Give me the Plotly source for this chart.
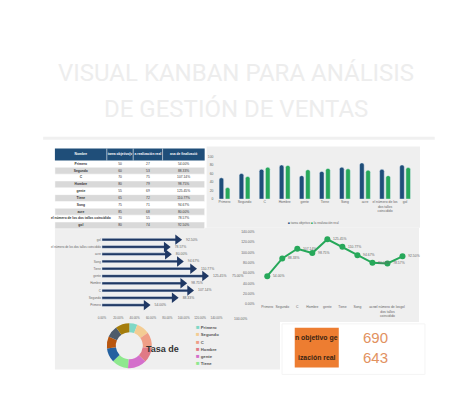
import plotly.graph_objects as go

W, H = 474, 417

# ---------------- data ----------------
names = ["Primero", "Segundo", "C", "Hombre", "gente", "Tiene", "Song", "acre",
         "el número de los dos tallos coincidido", "gol"]
axis_labels = ["Primero", "Segundo", "C", "Hombre", "gente", "Tiene", "Song", "acre",
               "el número de los<br>dos tallos<br>coincidido", "gol"]
objetivo = [50, 60, 70, 80, 55, 65, 75, 85, 70, 80]
real = [27, 53, 75, 79, 69, 72, 71, 68, 55, 74]
tasa = [r / o for r, o in zip(real, objetivo)]
header_labels = ["Nombre", "tarea objetivo(v", "a realización real", "asa de finalizació"]
series_labels = ["tarea objetivo", "la realización real"]
pct_ticks = [0, 0.2, 0.4, 0.6, 0.8, 1.0, 1.2, 1.4]
bar_ticks = [0, 20, 40, 60, 80, 100]
donut_colors = ["#7fd8c6", "#f3cc93", "#ef9e86", "#e07a86", "#d46fcb",
                "#8ee88e", "#2461a0", "#b8560f", "#4d5b6b", "#a57d0c"]
kpi_labels = ["n objetivo ge", "ización real"]
kpi_values = [sum(objetivo), sum(real)]

BLUE = "#1f4e79"
GREEN = "#27a85a"
NAVY = "#1f3864"
GRAY_TXT = "#666666"
FONT = "Liberation Sans"


def fx(x):
    return x / W


def fy(y):
    return 1 - y / H


def note(text, x, y, font, xanchor="center"):
    return dict(text=text, x=fx(x), y=fy(y), xref="paper", yref="paper",
                xanchor=xanchor, yanchor="middle", showarrow=False, font=font)


fig = go.Figure()
shapes = []
annotations = []

# ---------------- table (drawn on its own hidden axes) ----------------
TX0, TX1, TY0, TY1 = 52, 205, 148, 229
col_w = [53, 27, 30, 43]
HEAD_H = 12
ROW_H = (TY1 - TY0 - HEAD_H) / len(names)
bounds = [sum(col_w[:i]) for i in range(len(col_w) + 1)]
centers = [(bounds[i] + bounds[i + 1]) / 2 for i in range(len(col_w))]
row_y = [HEAD_H + ROW_H * (i + 0.5) for i in range(len(names))]

shapes.append(dict(type="rect", xref="paper", yref="paper", x0=fx(TX0), x1=fx(TX1),
                   y0=fy(TY1), y1=fy(TY0), fillcolor="white", line_width=0, layer="below"))
shapes.append(dict(type="rect", xref="paper", yref="paper", x0=fx(TX0), x1=fx(TX1),
                   y0=fy(TY0 + HEAD_H), y1=fy(TY0), fillcolor=BLUE, line_width=0, layer="below"))
for i in range(len(names)):
    if i % 2 == 1:
        ya = TY0 + HEAD_H + ROW_H * i
        shapes.append(dict(type="rect", xref="paper", yref="paper", x0=fx(TX0), x1=fx(TX1),
                           y0=fy(ya + ROW_H), y1=fy(ya), fillcolor="#d9d9d9",
                           line=dict(color="white", width=0.5), layer="below"))
for b in bounds[1:-1]:
    shapes.append(dict(type="line", xref="paper", yref="paper", x0=fx(TX0 + b), x1=fx(TX0 + b),
                       y0=fy(TY0 + HEAD_H), y1=fy(TY0), line=dict(color="white", width=0.6)))

fig.add_trace(go.Scatter(x=centers, y=[HEAD_H / 2] * 4, mode="text",
                         text=["<b>%s</b>" % h for h in header_labels],
                         textfont=dict(size=3.3, color="white", family=FONT),
                         xaxis="x4", yaxis="y4", showlegend=False, cliponaxis=False))
col_texts = [["<b>%s</b>" % n for n in names], [str(v) for v in objetivo],
             [str(v) for v in real], ["%.2f%%" % (t * 100) for t in tasa]]
for c, texts in enumerate(col_texts):
    fig.add_trace(go.Scatter(x=[centers[c]] * len(texts), y=row_y, mode="text", text=texts,
                             textfont=dict(size=3.3, color="#333333", family=FONT),
                             xaxis="x4", yaxis="y4", showlegend=False, cliponaxis=False))

# ---------------- grouped bar chart ----------------
fig.add_trace(go.Bar(x=names, y=objetivo, name=series_labels[0], marker_color=BLUE,
                     width=0.23, offset=-0.27, marker_cornerradius=2,
                     xaxis="x", yaxis="y", showlegend=False))
fig.add_trace(go.Bar(x=names, y=real, name=series_labels[1], marker_color=GREEN,
                     width=0.23, offset=0.04, marker_cornerradius=2,
                     xaxis="x", yaxis="y", showlegend=False))

# ---------------- arrow chart ----------------
fig.add_trace(go.Bar(x=tasa, y=names, orientation="h", marker_color=NAVY, width=0.38,
                     xaxis="x2", yaxis="y2", showlegend=False))
fig.add_trace(go.Scatter(x=tasa, y=names, mode="markers+text",
                         marker=dict(symbol="triangle-right", size=9, color=NAVY),
                         text=["  %.2f%%" % (t * 100) for t in tasa],
                         textposition="middle right",
                         textfont=dict(size=3.4, color=GRAY_TXT, family=FONT),
                         xaxis="x2", yaxis="y2", showlegend=False, cliponaxis=False))

# ---------------- line chart ----------------
fig.add_trace(go.Scatter(x=names, y=tasa, mode="lines+markers+text",
                         line=dict(color=GREEN, width=2),
                         marker=dict(size=6, color=GREEN),
                         text=[" %.2f%%" % (t * 100) for t in tasa],
                         textposition="middle right",
                         textfont=dict(size=3.4, color=GRAY_TXT, family=FONT),
                         xaxis="x3", yaxis="y3", showlegend=False, cliponaxis=False))

# ---------------- donut ----------------
fig.add_trace(go.Pie(labels=names, values=tasa, hole=0.6, sort=False,
                     direction="clockwise", rotation=0,
                     marker=dict(colors=donut_colors, line=dict(width=0)),
                     textinfo="none", showlegend=False,
                     domain=dict(x=[fx(105), fx(151)], y=[fy(370), fy(324)])))

tick_font = dict(size=3.4, color=GRAY_TXT, family=FONT)

shapes = [
    dict(type="rect", xref="paper", yref="paper", x0=fx(40), x1=fx(440), y0=fy(139), y1=fy(136),
         fillcolor="#f0f0f0", line_width=0, layer="below"),
    dict(type="rect", xref="paper", yref="paper", x0=fx(207), x1=fx(425), y0=fy(228), y1=fy(146),
         fillcolor="#efefef", line_width=0, layer="below"),
    dict(type="rect", xref="paper", yref="paper", x0=fx(52), x1=fx(424), y0=fy(323), y1=fy(228),
         fillcolor="#efefef", line_width=0, layer="below"),
    dict(type="rect", xref="paper", yref="paper", x0=fx(52), x1=fx(282), y0=fy(371), y1=fy(323),
         fillcolor="#efefef", line_width=0, layer="below"),
    dict(type="rect", xref="paper", yref="paper", x0=fx(284), x1=fx(430), y0=fy(376), y1=fy(325),
         fillcolor="white", line=dict(color="#f4f4f4", width=1), layer="below"),
    dict(type="rect", xref="paper", yref="paper", x0=fx(297), x1=fx(342), y0=fy(369), y1=fy(329),
         fillcolor="#ed7d31", line_width=0, layer="below"),
] + shapes

title_font = dict(size=24, color="#ededed", family="Roboto")
annotations += [
    note("VISUAL KANBAN PARA ANÁLISIS", 237, 72, title_font),
    note("DE GESTIÓN DE VENTAS", 237, 108, title_font),
    note("<b>Tasa de</b>", 143, 350, dict(size=9, color="#333333", family=FONT), "left"),
    note("75.00%", 231, 277, tick_font, "left"),
    note("100.00%", 233, 320, tick_font, "left"),
]

# bar chart legend
for i, (lab, col) in enumerate(zip(series_labels, [BLUE, GREEN])):
    annotations.append(note("<span style='color:%s'>■</span> %s" % (col, lab), 288 + i * 24, 223,
                            dict(size=3.2, color=GRAY_TXT, family=FONT), "left"))

# donut legend (first entries visible)
for i, (lab, col) in enumerate(zip(names[:6], donut_colors[:6])):
    annotations.append(note("<span style='color:%s;font-size:6px'>■</span> <b>%s</b>" % (col, lab),
                            194, 328 + i * 7.4, dict(size=4.2, color="#555555", family=FONT), "left"))

# KPI
for i, (lab, val) in enumerate(zip(kpi_labels, kpi_values)):
    yy = 339 + i * 20
    annotations.append(note("<b>%s</b>" % lab, 319.5, yy,
                            dict(size=6.9, color="#3b2412", family=FONT)))
    annotations.append(note("%d" % val, 380, yy, dict(size=15, color="#e2925f", family=FONT)))

fig.update_layout(
    width=W, height=H, margin=dict(l=0, r=0, t=0, b=0),
    paper_bgcolor="white", plot_bgcolor="rgba(0,0,0,0)",
    showlegend=False, barmode="overlay",
    shapes=shapes, annotations=annotations,
    xaxis=dict(domain=[fx(215), fx(420)], anchor="y", type="category",
               tickvals=names, ticktext=axis_labels, tickfont=tick_font, tickangle=0,
               showgrid=False, zeroline=False, ticks="", showline=False),
    yaxis=dict(domain=[fy(199), fy(156)], anchor="x", range=[0, 100], tickvals=bar_ticks,
               tickfont=tick_font, showgrid=False, zeroline=False),
    xaxis2=dict(domain=[fx(100), fx(217)], anchor="y2", range=[0, 1.4], tickvals=pct_ticks,
                tickformat=".2%", tickfont=dict(size=3.0, color=GRAY_TXT, family=FONT),
                tickangle=0, showgrid=False, zeroline=False),
    yaxis2=dict(domain=[fy(316), fy(230)], anchor="x2", type="category",
                tickfont=dict(size=3.0, color=GRAY_TXT, family=FONT),
                showgrid=False, zeroline=False),
    xaxis3=dict(domain=[fx(257), fx(419)], anchor="y3", type="category",
                tickvals=names, ticktext=axis_labels, tickfont=tick_font, tickangle=0,
                showgrid=False, zeroline=False),
    yaxis3=dict(domain=[fy(305), fy(232)], anchor="x3", range=[0, 1.4], tickvals=pct_ticks,
                tickformat=".2%", tickfont=tick_font, showgrid=False, zeroline=False),
    xaxis4=dict(domain=[fx(TX0), fx(TX1)], anchor="y4", range=[0, bounds[-1]], visible=False),
    yaxis4=dict(domain=[fy(TY1), fy(TY0)], anchor="x4", range=[TY1 - TY0, 0], visible=False),
)

fig.write_html("out.html", config={"displayModeBar": False},
               post_script="document.body.style.margin='0px';")
